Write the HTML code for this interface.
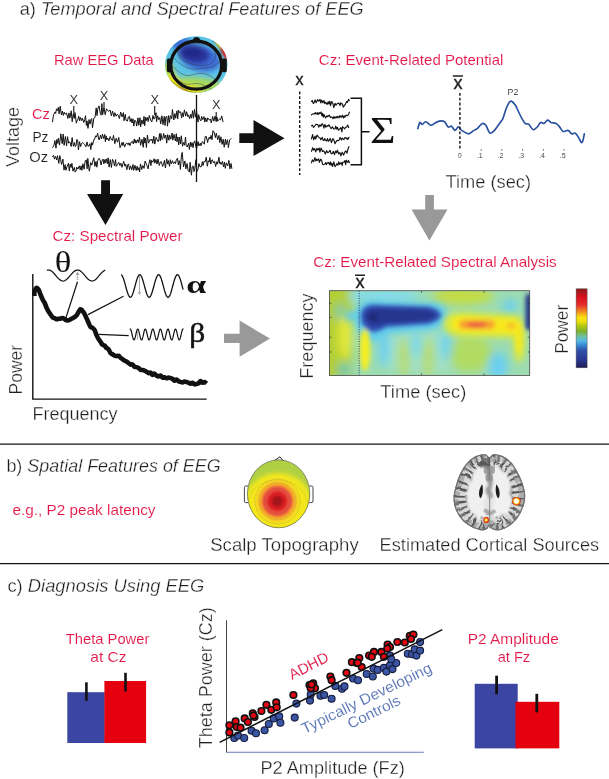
<!DOCTYPE html>
<html lang="en"><head><meta charset="utf-8"><title>EEG features figure</title>
<style>
html,body{margin:0;padding:0;background:#fff;}
body{width:609px;height:779px;overflow:hidden;font-family:"Liberation Sans",sans-serif;}
svg{display:block}
svg text{font-family:"Liberation Sans",sans-serif;stroke:#fff;stroke-width:0.3px;}
svg text.serif{font-family:"Liberation Serif",serif;stroke:none;}
</style></head><body>
<svg width="609" height="779" viewBox="0 0 609 779">
<rect width="609" height="779" fill="#fff"/>
<!-- section a -->
<text x="19.7" y="14.5" font-size="18" fill="#1f1f1f" textLength="344" lengthAdjust="spacingAndGlyphs">a) <tspan font-style="italic">Temporal and Spectral Features of EEG</tspan></text>
<text x="54" y="65" font-size="15" fill="#e31747" text-anchor="start" textLength="99.7" lengthAdjust="spacingAndGlyphs"  style="stroke-width:0.1px">Raw EEG Data</text>
<text transform="translate(18.7 167) rotate(-90)" font-size="18" fill="#1f1f1f" textLength="60" lengthAdjust="spacingAndGlyphs">Voltage</text>
<text x="31.9" y="119.2" font-size="15.3" fill="#e31747" text-anchor="start" textLength="18" lengthAdjust="spacingAndGlyphs"  style="stroke-width:0.1px">Cz</text>
<text x="32.4" y="141.8" font-size="15" fill="#1f1f1f" text-anchor="start" textLength="16" lengthAdjust="spacingAndGlyphs"  style="stroke-width:0.1px">Pz</text>
<text x="29.3" y="161.8" font-size="15" fill="#1f1f1f" text-anchor="start" textLength="18.8" lengthAdjust="spacingAndGlyphs"  style="stroke-width:0.1px">Oz</text>
<polyline points="52.5,121.7 53.5,114.9 54.1,113.9 55.1,111.9 55.7,113.4 56.5,108.8 57.5,110.6 58.3,107.4 59.1,113.8 60.2,106.2 61.4,114.9 62.4,111.0 63.3,115.4 64.2,112.2 65.1,114.3 66.5,113.0 67.9,118.5 68.9,112.9 69.9,118.0 71.2,110.8 72.2,121.7 73.2,114.2 74.3,118.4 75.0,112.6 76.3,123.2 76.9,121.3 78.0,119.1 78.7,116.2 79.7,120.8 80.4,117.4 81.7,120.6 82.4,118.1 83.8,122.5 84.7,119.8 85.5,115.7 86.4,125.5 87.0,120.9 88.0,128.4 89.0,119.6 90.0,124.1 91.0,119.2 91.7,118.5 92.5,127.8 93.8,118.2 95.0,117.4 96.2,107.9 97.0,115.6 97.7,109.2 99.0,105.8 100.3,113.4 101.1,115.2 101.9,103.6 102.6,114.7 104.0,108.0 105.2,114.7 106.5,108.8 107.6,110.5 108.7,111.4 110.1,110.0 111.4,115.8 112.5,111.0 113.9,116.7 114.8,112.7 116.1,116.2 117.2,114.3 118.2,115.2 119.4,118.6 120.7,112.0 122.1,116.9 123.4,112.6 124.0,120.7 125.3,114.3 126.0,120.1 127.4,121.1 128.4,117.0 129.5,116.4 130.2,121.6 131.1,118.5 132.1,123.0 132.9,118.8 133.9,126.1 134.6,120.4 135.8,120.8 136.7,126.1 138.0,117.8 138.8,125.3 140.0,117.7 140.6,126.9 141.9,119.9 143.1,124.2 144.0,116.4 144.7,125.7 145.6,117.2 146.2,120.7 147.3,117.4 148.1,121.5 149.3,115.5 150.6,120.0 151.8,122.0 153.0,115.4 153.9,119.1 154.8,118.5 156.0,112.7 156.6,121.6 157.6,115.8 158.8,119.7 159.8,117.6 160.7,123.9 161.9,115.8 163.0,124.7 164.2,116.4 165.1,125.5 165.8,116.9 166.9,116.4 167.5,126.2 168.6,115.6 169.4,122.6 170.4,115.7 171.7,118.8 172.4,109.5 173.8,119.9 174.9,113.5 175.7,118.2 177.0,110.8 177.7,118.9 178.5,110.1 179.4,112.7 180.5,111.7 181.7,117.9 182.4,112.7 183.3,116.7 184.4,109.9 185.7,116.1 186.6,111.7 187.9,116.6 188.6,114.9 189.6,118.8 190.8,114.2 191.5,118.2 192.6,110.7 193.4,118.2 194.5,109.4 195.4,117.1 196.6,111.5 198.0,122.1 198.6,114.7 200.0,119.7 200.9,120.9 201.6,116.4 202.8,119.7 204.0,116.6 204.9,122.1 205.6,117.9 206.9,121.7 207.7,117.8 208.6,118.9 209.4,120.2 210.4,119.1 211.3,123.0 212.6,116.5 213.9,121.2 215.1,116.1 216.2,121.7 216.9,117.1 217.7,121.2 218.7,119.7 219.7,119.1 220.5,119.9 221.7,115.9 223.0,121.7" fill="none" stroke="#111" stroke-width="1.0" stroke-linejoin="round" stroke-linecap="round" />
<polyline points="52.5,147.4 53.8,145.9 54.9,140.6 56.0,148.2 56.8,139.4 57.8,143.4 58.4,138.3 59.5,145.1 60.8,133.8 62.2,143.7 63.2,134.0 64.1,145.4 65.4,136.5 66.6,145.9 67.5,136.7 68.6,143.0 69.9,141.9 71.2,146.5 72.1,137.6 73.4,146.3 74.5,142.6 75.2,146.5 76.0,145.8 76.9,139.4 77.8,141.0 78.4,149.9 79.6,141.7 80.7,146.6 81.4,143.6 82.8,142.6 83.9,143.8 84.5,144.3 85.9,146.9 87.0,141.9 88.0,146.2 89.2,145.9 90.0,143.6 90.8,149.6 91.8,142.4 92.5,145.1 93.9,139.5 94.5,139.5 95.6,135.8 96.4,137.1 97.7,133.3 98.6,139.0 99.3,139.9 100.5,135.0 101.5,139.0 102.5,134.2 103.8,138.7 104.7,134.4 105.4,141.7 106.1,135.8 106.8,139.8 107.7,138.0 108.9,140.9 110.2,136.5 111.5,139.9 112.5,140.4 113.5,135.3 114.8,143.7 116.1,138.3 117.5,142.2 118.8,137.5 120.0,147.7 121.2,145.0 122.0,142.4 122.8,145.5 123.4,142.4 124.6,147.0 125.7,143.9 126.9,142.9 128.1,144.8 129.0,142.8 130.0,145.7 131.1,142.2 132.4,141.3 133.3,143.9 134.3,138.9 135.1,143.1 135.8,139.9 136.5,143.1 137.8,139.7 138.6,142.5 139.5,137.2 140.6,145.3 142.0,139.2 143.2,147.3 144.0,137.2 144.8,143.1 145.5,138.1 146.4,147.5 147.4,135.0 148.5,143.1 149.3,141.6 150.1,139.3 151.0,140.6 152.0,139.0 152.8,143.3 153.8,136.1 154.8,144.1 156.1,137.3 156.8,139.1 158.1,141.6 158.8,139.4 159.5,133.6 160.3,140.9 160.9,133.4 162.1,139.6 162.8,138.5 163.7,133.5 164.7,138.3 165.8,135.0 166.7,143.2 167.7,134.6 168.9,140.3 169.6,135.1 170.8,139.2 172.1,133.0 172.8,140.2 174.1,134.3 175.4,141.0 176.3,133.7 177.0,141.8 177.9,136.9 178.7,145.0 179.6,137.1 180.6,144.0 181.3,135.8 182.5,146.2 183.7,142.5 184.6,145.2 185.5,137.0 186.2,145.8 187.3,147.0 188.6,143.2 189.4,149.5 190.4,142.2 191.1,146.6 192.0,142.5 193.1,147.7 193.7,143.2 194.7,140.9 195.9,146.7 196.6,148.3 198.0,141.5 198.9,145.9 200.3,143.1 201.0,145.8 202.2,141.6 203.1,142.2 204.3,144.2 205.2,136.5 206.3,136.4 207.6,142.6 208.5,138.2 209.3,137.2 210.1,139.2 211.1,135.3 212.0,139.8 212.9,130.7 214.0,131.9 215.4,137.7 216.3,133.2 217.7,139.7 219.0,135.4 219.8,142.7 220.9,136.8 222.1,144.4 223.2,139.2 224.2,147.2 225.4,139.2 226.1,144.7 227.5,139.7 228.4,147.6 229.6,140.1 230.9,138.7" fill="none" stroke="#111" stroke-width="1.0" stroke-linejoin="round" stroke-linecap="round" />
<polyline points="52.5,156.6 53.6,155.3 54.4,159.1 55.5,156.4 56.7,160.0 57.5,155.7 58.8,163.4 59.8,155.6 60.6,159.5 61.6,164.5 62.9,159.1 64.0,170.1 65.1,164.6 65.9,170.3 67.2,166.2 68.5,163.2 69.3,171.1 70.2,164.2 71.1,167.6 71.9,163.3 73.0,171.2 74.3,167.4 75.2,172.1 76.1,170.8 76.7,167.1 77.9,169.1 79.3,165.9 80.2,169.9 81.1,165.8 81.9,170.3 82.9,163.8 84.1,169.2 85.2,160.8 86.3,159.9 87.1,168.8 87.8,158.4 88.7,167.3 89.3,171.2 90.7,162.6 91.8,165.1 92.5,162.2 93.8,157.7 94.9,166.4 96.0,161.5 96.9,167.2 97.7,160.5 99.0,158.3 100.1,160.0 101.1,165.0 101.7,161.9 103.0,159.0 103.9,163.9 104.8,159.6 105.4,162.9 106.3,158.9 107.3,163.8 108.1,157.8 109.1,167.1 110.3,159.5 111.4,167.5 112.5,159.3 113.7,161.7 114.5,166.0 115.6,159.6 116.2,166.4 117.4,164.7 118.7,162.3 119.9,165.6 120.8,163.2 122.0,167.3 123.0,163.3 123.7,161.3 124.9,166.2 125.7,164.2 126.9,169.7 127.7,165.0 128.6,163.9 129.5,169.7 130.6,165.9 131.8,169.8 133.0,164.5 133.7,170.4 135.0,165.4 136.2,170.5 137.1,166.2 138.0,170.2 139.0,167.6 139.6,172.0 140.5,163.9 141.7,169.5 142.8,165.5 144.0,168.4 145.1,161.1 146.4,164.2 147.5,166.9 148.1,168.9 149.0,163.2 150.0,159.7 150.9,165.6 151.6,160.4 152.8,162.2 154.1,158.7 154.8,163.2 156.0,159.5 157.0,164.1 158.1,159.1 159.3,165.5 160.3,162.0 161.3,161.7 162.6,166.5 163.5,164.5 164.4,160.4 165.4,167.9 166.7,158.8 167.7,164.1 168.4,160.6 169.5,166.3 170.3,159.7 171.3,163.9 172.5,160.7 173.3,163.5 174.0,163.3 174.9,161.8 175.5,163.5 176.3,159.9 177.5,158.2 178.3,164.9 179.2,160.6 179.8,163.0 180.4,169.4 181.4,156.0 182.2,152.4 183.5,166.9 184.9,161.0 185.9,168.9 187.1,163.5 188.2,170.9 189.4,172.0 190.1,162.3 191.4,175.2 192.3,166.3 193.3,166.2 194.0,171.6 194.7,169.4 196.0,159.6 196.7,171.8 198.1,168.9 198.9,163.6 200.1,166.9 201.4,166.6 202.4,161.7 203.0,165.5 204.1,161.3 205.1,161.9 206.3,157.1 207.3,166.2 208.3,160.7 209.1,162.1 209.9,157.5 210.8,164.1 211.6,160.4 212.3,159.7 213.6,163.0 214.6,161.4 215.6,166.5 216.9,161.6 217.6,164.1 219.0,157.2 219.6,163.4 220.3,162.2 221.1,164.5 222.4,161.4 223.6,167.0 224.4,162.1 225.3,168.3 226.3,162.8 227.7,165.9 228.9,160.4 229.9,168.9 231.0,163.4 231.8,168.4" fill="none" stroke="#111" stroke-width="1.0" stroke-linejoin="round" stroke-linecap="round" />
<text x="73.8" y="104.0" font-size="12.8" fill="#1f1f1f" text-anchor="middle"  style="stroke-width:0.1px">X</text>
<line x1="73.8" y1="106" x2="73.8" y2="115" stroke="#111" stroke-width="1.1"/>
<text x="104" y="100.0" font-size="12.8" fill="#1f1f1f" text-anchor="middle"  style="stroke-width:0.1px">X</text>
<line x1="104" y1="102" x2="104" y2="109" stroke="#111" stroke-width="1.1"/>
<text x="154.7" y="104.4" font-size="12.8" fill="#1f1f1f" text-anchor="middle"  style="stroke-width:0.1px">X</text>
<line x1="154.7" y1="106" x2="154.7" y2="115" stroke="#111" stroke-width="1.1"/>
<text x="216.2" y="109.4" font-size="12.8" fill="#1f1f1f" text-anchor="middle"  style="stroke-width:0.1px">X</text>
<line x1="216.2" y1="112" x2="216.2" y2="119" stroke="#111" stroke-width="1.1"/>
<line x1="196.5" y1="95" x2="196.5" y2="182" stroke="#111" stroke-width="1.3"/>
<path d="M239.3 133.3H253.5V120L284.5 138.2L253.5 156V143H239.3Z" fill="#111"/>
<path d="M101.1 180.3H110V194H123.2L105.5 225L87 194H101.1Z" fill="#111"/>
<text x="318.8" y="65" font-size="15" fill="#e31747" text-anchor="start" textLength="184.6" lengthAdjust="spacingAndGlyphs"  style="stroke-width:0.1px">Cz: Event-Related Potential</text>
<text x="299.5" y="85.4" font-size="16" fill="#1f1f1f" text-anchor="middle" style="stroke:#1f1f1f;stroke-width:0.4px">x</text>
<line x1="299.7" y1="91.5" x2="299.7" y2="175" stroke="#111" stroke-width="1.4" stroke-dasharray="2.8 2"/>
<polyline points="311.5,101.3 312.3,100.5 313.2,103.4 314.0,102.9 315.1,99.9 316.2,102.7 317.5,99.6 318.8,101.2 320.1,99.4 320.8,103.0 321.8,100.2 322.8,102.7 324.0,100.5 324.7,103.6 325.8,102.3 327.1,104.5 328.2,101.7 328.9,104.0 329.9,101.3 330.5,105.7 331.7,101.5 333.0,103.8 333.8,107.6 335.0,103.3 336.0,105.3 337.0,103.8 337.8,103.4 338.8,102.9 340.0,105.6 340.7,102.8 341.7,103.9 342.4,103.9 343.2,107.1 344.1,105.9 345.4,104.1 346.7,101.6 347.3,102.5 348.5,99.4 349.3,100.8" fill="none" stroke="#111" stroke-width="1.15" stroke-linejoin="round" stroke-linecap="round" />
<polyline points="311.5,114.8 312.2,114.2 313.4,113.8 314.3,113.9 315.3,112.7 316.0,114.2 317.3,112.7 317.9,114.6 319.2,112.6 319.8,113.8 321.1,112.0 321.9,115.8 322.6,113.3 323.3,117.1 324.0,114.5 325.1,116.9 325.8,117.8 326.8,115.8 327.9,116.7 329.1,115.0 330.5,117.4 331.2,117.1 332.3,117.3 333.0,118.7 334.0,116.5 334.9,118.3 336.3,116.5 337.0,118.0 337.9,116.3 339.1,117.9 339.9,115.5 341.2,117.3 342.3,115.3 343.4,118.0 344.2,115.8 344.8,117.2 346.1,115.1 347.2,115.7 348.3,114.9 349.4,112.2" fill="none" stroke="#111" stroke-width="1.15" stroke-linejoin="round" stroke-linecap="round" />
<polyline points="311.5,125.8 312.5,125.1 313.5,127.5 314.7,126.0 316.0,124.4 317.4,124.5 318.0,124.8 318.7,127.1 320.0,124.8 320.9,126.3 322.1,123.7 323.3,125.3 323.9,128.1 324.9,124.4 325.9,127.2 327.2,125.5 327.9,126.4 328.9,124.8 330.3,127.2 331.2,128.6 332.4,126.8 333.7,129.0 335.0,128.9 335.7,126.2 336.6,129.0 337.4,127.2 338.4,130.2 339.5,129.1 340.9,127.7 341.9,131.9 342.5,126.7 343.7,127.8 344.7,128.8 345.4,127.5 346.7,127.0 347.7,125.1 348.7,127.5" fill="none" stroke="#111" stroke-width="1.15" stroke-linejoin="round" stroke-linecap="round" />
<polyline points="311.5,138.9 312.6,134.6 313.7,139.9 315.1,136.2 315.7,139.0 317.1,135.0 318.4,136.9 319.1,137.7 320.2,138.1 320.8,139.8 321.5,138.5 322.3,137.3 323.2,140.4 324.1,140.5 324.7,138.6 325.9,140.5 326.6,140.9 327.6,138.6 328.2,141.1 328.9,141.0 330.2,138.4 331.5,142.6 332.8,138.7 333.6,139.2 335.0,143.7 336.4,140.9 337.7,140.6 338.9,140.4 340.1,137.4 341.4,140.1 342.3,138.1 343.2,139.2 343.9,139.6 344.9,137.6 345.8,137.7 346.4,138.8 347.1,137.9 347.8,139.4 349.1,137.3" fill="none" stroke="#111" stroke-width="1.15" stroke-linejoin="round" stroke-linecap="round" />
<polyline points="311.5,151.3 312.8,147.7 313.5,150.1 314.7,148.7 315.7,151.9 316.9,148.4 317.9,150.1 319.2,148.0 319.9,152.2 321.1,148.0 322.5,151.5 323.3,150.8 324.3,151.6 325.3,154.0 326.6,150.7 327.8,152.7 329.2,151.6 330.0,150.3 331.2,153.8 332.6,153.3 333.3,151.3 334.5,154.6 335.6,151.1 336.6,152.8 337.4,150.1 338.7,154.0 339.8,152.5 340.9,155.9 342.2,152.2 343.6,154.9 344.9,151.9 345.9,150.9 347.0,153.2 347.9,149.3 348.9,146.6" fill="none" stroke="#111" stroke-width="1.15" stroke-linejoin="round" stroke-linecap="round" />
<polyline points="311.5,162.8 312.3,159.9 313.7,161.7 314.9,157.6 315.8,160.9 316.6,159.2 317.3,160.4 318.6,158.8 319.4,162.3 320.7,159.2 321.6,160.4 322.6,164.2 323.8,164.6 325.1,163.7 325.8,162.6 326.5,164.6 327.2,163.1 328.4,162.4 329.6,164.7 330.3,161.8 331.0,165.1 331.8,163.1 332.5,166.5 333.8,161.8 335.0,166.7 335.9,165.5 336.8,163.7 337.9,165.2 338.8,161.9 339.7,164.5 341.1,162.5 342.2,165.4 342.8,162.2 344.0,162.3 344.9,160.6 345.7,164.7 346.4,160.2 347.1,161.5 347.8,162.4 348.6,160.6 349.4,162.6" fill="none" stroke="#111" stroke-width="1.15" stroke-linejoin="round" stroke-linecap="round" />
<path d="M350.5 98.2H361.4V164.8H350.5M361.4 131.8H369.5" fill="none" stroke="#111" stroke-width="1.5"/>
<text class="serif" x="370" y="142.8" font-size="38" fill="#111" textLength="25.5" lengthAdjust="spacingAndGlyphs">Σ</text>
<path d="M417.8 128.6C418.2 127.6 419.2 123.1 419.9 122.5C420.6 121.8 421.3 124.6 422.3 124.5C423.3 124.4 424.3 121.7 425.7 121.8C427.2 121.9 429.5 124.9 430.9 125.2C432.3 125.5 432.9 124.2 434.3 123.5C435.7 122.8 437.7 121.4 439.5 121.1C441.2 120.8 443.2 120.8 444.6 121.8C446.0 122.7 446.9 126.2 448.0 126.9C449.2 127.7 450.3 125.7 451.5 126.2C452.6 126.8 453.8 130.2 454.9 130.4C456.1 130.5 457.2 126.9 458.3 126.9C459.5 126.9 460.1 129.2 461.8 130.4C463.5 131.5 466.6 133.8 468.6 133.8C470.6 133.8 472.4 131.2 473.8 130.4C475.2 129.5 475.8 129.8 477.2 128.6C478.6 127.5 480.9 124.1 482.4 123.5C483.8 122.9 484.5 123.6 485.8 125.2C487.1 126.8 488.5 132.2 489.9 133.1C491.3 134.0 492.8 132.0 494.4 130.4C496.0 128.7 498.1 125.5 499.5 123.5C500.9 121.5 501.8 120.9 503.0 118.3C504.1 115.8 505.1 110.9 506.4 108.0C507.6 105.2 509.1 101.8 510.5 101.2C511.9 100.6 513.6 102.9 515.0 104.6C516.3 106.3 517.3 109.2 518.4 111.5C519.5 113.8 520.7 116.3 521.8 118.3C523.0 120.3 524.1 122.5 525.3 123.5C526.4 124.5 527.4 123.1 528.7 124.2C530.0 125.2 531.7 129.2 533.2 129.7C534.6 130.1 536.0 128.1 537.3 126.9C538.5 125.7 539.6 123.0 540.7 122.5C541.8 121.9 543.0 123.9 544.1 123.5C545.3 123.1 546.4 120.2 547.6 120.1C548.7 119.9 549.6 121.9 551.0 122.5C552.4 123.0 554.7 122.7 556.1 123.5C557.6 124.2 558.4 125.6 559.6 126.9C560.7 128.2 561.6 130.8 563.0 131.4C564.4 132.0 566.7 129.9 568.2 130.4C569.6 130.8 570.4 133.3 571.6 133.8C572.7 134.2 573.9 132.5 575.0 133.1C576.2 133.7 577.4 135.7 578.4 137.2C579.5 138.8 580.5 141.8 581.2 142.4C581.9 142.9 582.4 142.1 582.9 140.6C583.4 139.2 584.1 134.9 584.3 133.8" fill="none" stroke="#27509f" stroke-width="1.65" stroke-linejoin="round" stroke-linecap="round"/>
<text x="457.9" y="88.6" font-size="18" fill="#1f1f1f" text-anchor="middle" style="stroke:#1f1f1f;stroke-width:0.4px">x</text>
<line x1="452.8" y1="76" x2="463" y2="76" stroke="#111" stroke-width="1.4"/>
<line x1="459.9" y1="93" x2="459.9" y2="150" stroke="#111" stroke-width="1.4" stroke-dasharray="2.8 2"/>
<text x="513" y="95.3" font-size="8.8" fill="#1f1f1f" text-anchor="middle"  style="stroke-width:0.1px">P2</text>
<text x="459.7" y="157.7" font-size="7" fill="#222" text-anchor="middle"  style="stroke-width:0.1px">0</text>
<text x="479.81999999999994" y="157.7" font-size="7" fill="#222" text-anchor="middle"  style="stroke-width:0.1px">.1</text>
<rect x="480.7" y="149.2" width="0.9" height="1.3" fill="#333"/>
<text x="500.53999999999996" y="157.7" font-size="7" fill="#222" text-anchor="middle"  style="stroke-width:0.1px">.2</text>
<rect x="501.4" y="149.2" width="0.9" height="1.3" fill="#333"/>
<text x="521.26" y="157.7" font-size="7" fill="#222" text-anchor="middle"  style="stroke-width:0.1px">.3</text>
<rect x="522.2" y="149.2" width="0.9" height="1.3" fill="#333"/>
<text x="541.9799999999999" y="157.7" font-size="7" fill="#222" text-anchor="middle"  style="stroke-width:0.1px">.4</text>
<rect x="542.9" y="149.2" width="0.9" height="1.3" fill="#333"/>
<text x="562.6999999999999" y="157.7" font-size="7" fill="#222" text-anchor="middle"  style="stroke-width:0.1px">.5</text>
<rect x="563.6" y="149.2" width="0.9" height="1.3" fill="#333"/>
<text x="445.6" y="187.7" font-size="18" fill="#1f1f1f" text-anchor="start" textLength="85.4" lengthAdjust="spacingAndGlyphs" >Time (sec)</text>
<path d="M425.2 195H433.9V209.4H447.5L429.4 240.4L411.5 209.4H425.2Z" fill="#999"/>
<path d="M224 333.7H239.6V320.6L270 338.6L239.6 356.7V343H224Z" fill="#999"/>
<text x="52.5" y="240.5" font-size="15" fill="#e31747" text-anchor="start" textLength="130" lengthAdjust="spacingAndGlyphs"  style="stroke-width:0.1px">Cz: Spectral Power</text>
<path d="M32.8 273.9V399.1H206.7" fill="none" stroke="#111" stroke-width="1.4"/>
<text transform="translate(22 394.4) rotate(-90)" font-size="17.5" fill="#1f1f1f" textLength="49.4" lengthAdjust="spacingAndGlyphs">Power</text>
<text x="32.4" y="420.4" font-size="18.7" fill="#1f1f1f" text-anchor="start" textLength="85.2" lengthAdjust="spacingAndGlyphs" >Frequency</text>
<path d="M34.4 296.0C34.4 295.2 34.1 292.9 34.5 291.5C34.9 290.1 35.8 288.1 36.5 287.8C37.2 287.4 37.8 288.3 38.5 289.4C39.2 290.5 39.8 292.8 40.5 294.5C41.2 296.1 41.8 297.9 42.5 299.2C43.2 300.6 43.8 301.2 44.5 302.6C45.2 304.0 45.8 306.0 46.5 307.5C47.2 309.0 47.8 310.3 48.5 311.5C49.2 312.6 49.8 313.6 50.5 314.5C51.2 315.5 51.8 316.6 52.5 317.2C53.2 317.8 53.8 317.8 54.5 318.1C55.2 318.4 55.8 319.1 56.5 319.2C57.2 319.4 57.8 318.9 58.5 318.8C59.2 318.7 59.8 318.7 60.5 318.6C61.2 318.4 61.8 317.9 62.5 318.0C63.2 318.1 63.8 318.7 64.5 319.1C65.2 319.5 65.8 320.1 66.5 320.3C67.2 320.4 67.8 320.4 68.5 320.2C69.2 320.1 69.8 319.6 70.5 319.3C71.2 319.0 71.8 318.7 72.5 318.3C73.2 318.0 73.8 317.6 74.5 317.1C75.2 316.6 75.8 316.3 76.5 315.5C77.2 314.7 77.8 313.2 78.5 312.1C79.2 311.1 79.8 309.5 80.5 309.2C81.2 309.0 81.8 310.0 82.5 310.8C83.2 311.5 83.8 312.6 84.5 313.8C85.2 315.0 85.8 316.6 86.5 318.1C87.2 319.6 87.8 321.3 88.5 322.8C89.2 324.3 89.8 326.1 90.5 326.9C91.2 327.8 91.8 327.4 92.5 327.9C93.2 328.4 93.8 328.7 94.5 329.9C95.2 331.1 95.8 333.5 96.5 335.1C97.2 336.6 97.8 337.8 98.5 338.9C99.2 340.1 99.8 340.8 100.5 341.8C101.2 342.8 101.8 344.2 102.5 344.8C103.2 345.4 103.8 345.1 104.5 345.6C105.2 346.2 105.8 347.3 106.5 347.9C107.2 348.5 107.8 348.3 108.5 349.2C109.2 350.0 109.8 352.0 110.5 352.9C111.2 353.7 111.8 353.8 112.5 354.3C113.2 354.7 113.8 355.3 114.5 355.6C115.2 355.9 115.8 356.2 116.5 356.2C117.2 356.2 117.8 355.5 118.5 355.8C119.2 356.0 119.8 357.1 120.5 357.7C121.2 358.3 121.8 358.7 122.5 359.2C123.2 359.7 123.8 360.2 124.5 360.6C125.2 361.0 125.8 361.1 126.5 361.5C127.2 361.9 127.8 362.4 128.5 363.0C129.2 363.5 129.8 364.3 130.5 364.6C131.2 364.8 131.8 364.0 132.5 364.4C133.2 364.8 133.8 366.3 134.5 366.8C135.2 367.2 135.8 366.9 136.5 367.1C137.2 367.3 137.8 367.5 138.5 367.9C139.2 368.4 139.8 369.5 140.5 369.8C141.2 370.2 141.8 369.9 142.5 370.0C143.2 370.1 143.8 370.3 144.5 370.6C145.2 370.8 145.8 371.3 146.5 371.7C147.2 372.2 147.8 372.9 148.5 373.1C149.2 373.2 149.8 372.2 150.5 372.5C151.2 372.8 151.8 374.7 152.5 374.9C153.2 375.1 153.8 373.5 154.5 373.6C155.2 373.8 155.8 375.2 156.5 375.7C157.2 376.2 157.8 376.5 158.5 376.5C159.2 376.5 159.8 375.3 160.5 375.5C161.2 375.6 161.8 377.3 162.5 377.6C163.2 377.9 163.8 377.2 164.5 377.4C165.2 377.5 165.8 378.3 166.5 378.3C167.2 378.4 167.8 377.6 168.5 377.6C169.2 377.6 169.8 377.9 170.5 378.1C171.2 378.3 171.8 378.3 172.5 378.8C173.2 379.2 173.8 380.6 174.5 380.7C175.2 380.9 175.8 379.6 176.5 379.6C177.2 379.7 177.8 380.8 178.5 381.2C179.2 381.6 179.8 381.7 180.5 381.9C181.2 382.1 181.8 382.4 182.5 382.4C183.2 382.3 183.8 381.7 184.5 381.6C185.2 381.5 185.8 381.8 186.5 382.0C187.2 382.2 187.8 382.5 188.5 382.7C189.2 383.0 189.8 383.7 190.5 383.7C191.2 383.6 191.8 382.6 192.5 382.7C193.2 382.8 193.8 384.2 194.5 384.4C195.2 384.6 195.8 384.2 196.5 384.0C197.2 383.9 197.8 383.9 198.5 383.4C199.2 382.9 199.8 381.1 200.5 381.0C201.2 380.9 201.8 382.5 202.5 382.7C203.2 382.8 203.8 381.9 204.5 382.0C205.2 382.2 206.2 383.3 206.5 383.6" fill="none" stroke="#111" stroke-width="4.6" stroke-linejoin="round" stroke-linecap="butt"/>
<text class="serif" x="54.8" y="272" font-size="29" fill="#111" textLength="16.6" lengthAdjust="spacingAndGlyphs">θ</text>
<polyline points="47.3,270.2 48.1,270.0 48.9,270.0 49.7,270.2 50.5,270.5 51.3,271.0 52.1,271.6 52.9,272.3 53.7,273.1 54.5,274.0 55.3,275.0 56.1,275.9 56.9,276.9 57.7,277.8 58.5,278.6 59.3,279.3 60.1,279.9 60.9,280.4 61.7,280.8 62.5,281.0 63.3,281.0 64.1,280.8 64.9,280.5 65.7,280.1 66.5,279.5 67.3,278.8 68.1,278.0 68.9,277.1 69.7,276.2 70.5,275.2 71.3,274.3 72.1,273.4 72.9,272.5 73.7,271.8 74.5,271.1 75.3,270.6 76.1,270.3 76.9,270.0 77.7,270.0 78.5,270.1 79.3,270.4 80.1,270.8 80.9,271.4 81.7,272.1 82.5,272.9 83.3,273.8 84.1,274.7 84.9,275.7 85.7,276.6 86.5,277.5 87.3,278.4 88.1,279.2 88.9,279.8 89.7,280.3 90.5,280.7 91.3,280.9 92.1,281.0 92.9,280.9 93.7,280.6 94.5,280.2 95.3,279.7 96.1,279.0 96.9,278.2 97.7,277.3 98.5,276.4 99.3,275.4 100.1,274.5 100.9,273.6 101.7,272.7 102.5,271.9 103.3,271.3 104.1,270.7 104.9,270.3" fill="none" stroke="#111" stroke-width="1.25" stroke-linejoin="round" stroke-linecap="round" />
<line x1="77.5" y1="281.7" x2="65.7" y2="318.5" stroke="#111" stroke-width="1.2"/>
<path d="M77.5 280V274" stroke="#aaa" stroke-width="1.6" stroke-dasharray="1.2 0.6" fill="none"/><path d="M75.5 275L77.5 271.6L79.5 275Z" fill="#aaa"/>
<polyline points="121.5,274.9 122.0,275.5 122.5,276.3 123.0,277.4 123.5,278.7 124.0,280.2 124.5,281.9 125.0,283.7 125.5,285.6 126.0,287.5 126.5,289.3 127.0,291.0 127.5,292.6 128.0,294.1 128.5,295.3 129.0,296.2 129.5,296.9 130.0,297.2 130.5,297.3 131.0,297.0 131.5,296.4 132.0,295.6 132.5,294.5 133.0,293.1 133.5,291.5 134.0,289.8 134.5,288.0 135.0,286.1 135.5,284.3 136.0,282.4 136.5,280.7 137.0,279.1 137.5,277.7 138.0,276.6 138.5,275.7 139.0,275.1 139.5,274.7 140.0,274.7 140.5,275.1 141.0,275.7 141.5,276.6 142.0,277.7 142.5,279.1 143.0,280.7 143.5,282.4 144.0,284.3 144.5,286.1 145.0,288.0 145.5,289.8 146.0,291.5 146.5,293.1 147.0,294.5 147.5,295.6 148.0,296.4 148.5,297.0 149.0,297.3 149.5,297.2 150.0,296.9 150.5,296.2 151.0,295.3 151.5,294.1 152.0,292.6 152.5,291.0 153.0,289.3 153.5,287.5 154.0,285.6 154.5,283.7 155.0,281.9 155.5,280.2 156.0,278.7 156.5,277.4 157.0,276.3 157.5,275.5 158.0,274.9 158.5,274.7 159.0,274.8 159.5,275.2 160.0,275.9 160.5,276.9 161.0,278.1 161.5,279.6 162.0,281.2 162.5,283.0 163.0,284.8 163.5,286.7 164.0,288.6 164.5,290.4 165.0,292.0 165.5,293.5 166.0,294.8 166.5,295.9 167.0,296.6 167.5,297.1 168.0,297.3 168.5,297.2 169.0,296.7 169.5,296.0 170.0,294.9 170.5,293.7 171.0,292.2 171.5,290.5 172.0,288.7 172.5,286.9 173.0,285.0 173.5,283.2 174.0,281.4 174.5,279.7 175.0,278.3 175.5,277.0 176.0,276.0 176.5,275.3 177.0,274.8 177.5,274.7 178.0,274.9 178.5,275.4 179.0,276.2 179.5,277.2 180.0,278.5 180.5,280.1 181.0,281.7 181.5,283.5 182.0,285.4 182.5,287.3 183.0,289.1" fill="none" stroke="#111" stroke-width="1.3" stroke-linejoin="round" stroke-linecap="round" />
<line x1="88" y1="314.6" x2="123.5" y2="296.2" stroke="#111" stroke-width="1.2"/>
<path d="M139.5 276V293" stroke="#aaa" stroke-width="1" fill="none"/><path d="M137.9 292L139.5 295.5L141.1 292Z" fill="#aaa"/>
<text class="serif" x="186.2" y="292.5" font-size="24.5" font-weight="bold" fill="#111" textLength="20" lengthAdjust="spacingAndGlyphs">α</text>
<polyline points="130.2,329.0 130.6,329.3 131.0,330.2 131.4,331.5 131.8,333.2 132.2,335.0 132.6,336.8 133.0,338.3 133.4,339.4 133.8,339.9 134.2,339.9 134.6,339.3 135.0,338.1 135.4,336.6 135.8,334.8 136.2,333.0 136.6,331.3 137.0,330.0 137.4,329.2 137.8,329.0 138.2,329.4 138.6,330.3 139.0,331.7 139.4,333.4 139.8,335.2 140.2,337.0 140.6,338.4 141.0,339.5 141.4,340.0 141.8,339.9 142.2,339.2 142.6,337.9 143.0,336.4 143.4,334.6 143.8,332.8 144.2,331.1 144.6,329.9 145.0,329.2 145.4,329.0 145.8,329.5 146.2,330.5 146.6,331.9 147.0,333.6 147.4,335.5 147.8,337.2 148.2,338.6 148.6,339.6 149.0,340.0 149.4,339.8 149.8,339.0 150.2,337.8 150.6,336.1 151.0,334.3 151.4,332.5 151.8,331.0 152.2,329.8 152.6,329.1 153.0,329.0 153.4,329.6 153.8,330.6 154.2,332.1 154.6,333.9 155.0,335.7 155.4,337.4 155.8,338.8 156.2,339.7 156.6,340.0 157.0,339.7 157.4,338.9 157.8,337.6 158.2,335.9 158.6,334.1 159.0,332.3 159.4,330.8 159.8,329.7 160.2,329.1 160.6,329.1 161.0,329.7 161.4,330.8 161.8,332.3 162.2,334.1 162.6,335.9 163.0,337.6 163.4,338.9 163.8,339.7 164.2,340.0 164.6,339.7 165.0,338.8 165.4,337.4 165.8,335.7 166.2,333.9 166.6,332.1 167.0,330.6 167.4,329.6 167.8,329.0 168.2,329.1 168.6,329.8 169.0,331.0 169.4,332.5 169.8,334.3 170.2,336.1 170.6,337.8 171.0,339.0 171.4,339.8 171.8,340.0 172.2,339.6 172.6,338.6 173.0,337.2 173.4,335.5 173.8,333.6 174.2,331.9 174.6,330.5 175.0,329.5 175.4,329.0 175.8,329.2 176.2,329.9 176.6,331.1 177.0,332.8 177.4,334.6 177.8,336.4 178.2,337.9 178.6,339.2 179.0,339.9 179.4,340.0 179.8,339.5 180.2,338.4 180.6,337.0 181.0,335.2 181.4,333.4 181.8,331.7 182.2,330.3 182.6,329.4 183.0,329.0" fill="none" stroke="#111" stroke-width="1.2" stroke-linejoin="round" stroke-linecap="round" />
<line x1="98.5" y1="334.3" x2="128.7" y2="335.6" stroke="#111" stroke-width="1.2"/>
<path d="M137.6 330V340" stroke="#999" stroke-width="0.8" fill="none"/>
<text class="serif" x="189.2" y="342.3" font-size="28" style="stroke:#111;stroke-width:0.5px" fill="#111" textLength="16" lengthAdjust="spacingAndGlyphs">β</text>
<text x="313.2" y="267.3" font-size="15" fill="#e31747" text-anchor="start" textLength="243.5" lengthAdjust="spacingAndGlyphs"  style="stroke-width:0.1px">Cz: Event-Related Spectral Analysis</text>
<text x="359.9" y="287.6" font-size="18" fill="#1f1f1f" text-anchor="middle" style="stroke:#1f1f1f;stroke-width:0.4px">x</text>
<line x1="355" y1="275.2" x2="365" y2="275.2" stroke="#111" stroke-width="1.4"/>
<text transform="translate(313 378.7) rotate(-90)" font-size="18" fill="#1f1f1f" textLength="85.3" lengthAdjust="spacingAndGlyphs">Frequency</text>
<text x="380.3" y="398" font-size="18.3" fill="#1f1f1f" text-anchor="start" textLength="86" lengthAdjust="spacingAndGlyphs" >Time (sec)</text>
<text transform="translate(568.2 353.8) rotate(-90)" font-size="17.5" fill="#1f1f1f" textLength="49" lengthAdjust="spacingAndGlyphs">Power</text>
<defs>
<filter id="b2" x="-50%" y="-50%" width="200%" height="200%"><feGaussianBlur stdDeviation="2"/></filter>
<filter id="b3" x="-50%" y="-50%" width="200%" height="200%"><feGaussianBlur stdDeviation="3"/></filter>
<filter id="b4" x="-50%" y="-50%" width="200%" height="200%"><feGaussianBlur stdDeviation="4.5"/></filter>
<filter id="b25" x="-50%" y="-50%" width="200%" height="200%"><feGaussianBlur stdDeviation="2.4"/></filter>
<filter id="b1" x="-50%" y="-50%" width="200%" height="200%"><feGaussianBlur stdDeviation="1.2"/></filter>
<clipPath id="hc"><ellipse cx="196.3" cy="64.5" rx="31.3" ry="28.3"/></clipPath>
<clipPath id="sc"><rect x="329.4" y="290.7" width="200.3" height="84.7"/></clipPath>
<linearGradient id="jet" x1="0" y1="0" x2="0" y2="1">
<stop offset="0" stop-color="#8a1c1c"/><stop offset="0.10" stop-color="#d8121c"/><stop offset="0.20" stop-color="#e62a2a"/>
<stop offset="0.29" stop-color="#f28c22"/><stop offset="0.36" stop-color="#f8e010"/><stop offset="0.41" stop-color="#f0e010"/>
<stop offset="0.47" stop-color="#b4c814"/><stop offset="0.54" stop-color="#7cb030"/><stop offset="0.60" stop-color="#70c0a0"/>
<stop offset="0.66" stop-color="#52b8e6"/><stop offset="0.72" stop-color="#3484d2"/><stop offset="0.78" stop-color="#3050a8"/>
<stop offset="0.90" stop-color="#2a3590"/><stop offset="1" stop-color="#1c1c58"/>
</linearGradient>
</defs>
<g clip-path="url(#hc)"><rect x="160" y="30" width="75" height="70" fill="#5cc4e6"/>
<g filter="url(#b25)">
<ellipse cx="192" cy="92" rx="36" ry="15" fill="#a8d85c"/>
<ellipse cx="167" cy="75" rx="8" ry="13" fill="#a4d658"/>
<ellipse cx="183" cy="93" rx="19" ry="9" fill="#e8e21c"/>
<ellipse cx="172" cy="84" rx="8" ry="10" fill="#f0e41a"/>
<ellipse cx="176" cy="92.5" rx="11" ry="4.5" fill="#f08a20"/>
<ellipse cx="200" cy="58" rx="21" ry="13" transform="rotate(18 200 58)" fill="#3c6cd6"/>
<ellipse cx="180" cy="43" rx="12" ry="6" fill="#3c70d8"/>
<ellipse cx="194" cy="54" rx="16" ry="9.5" transform="rotate(10 194 54)" fill="#2a329c"/>
<ellipse cx="192" cy="52.5" rx="10" ry="5.5" fill="#232a88"/>
</g><g filter="url(#b1)">
<ellipse cx="219.5" cy="44" rx="3" ry="7" transform="rotate(-35 219.5 44)" fill="#f0e030"/>
<ellipse cx="225.5" cy="51" rx="4" ry="10" transform="rotate(-22 225.5 51)" fill="#e01c14"/>
</g>
<path d="M178 50C184 43 200 41 211 47C219 54 216 63 207 65C197 67 186 63 180 58Z" fill="none" stroke="#333" stroke-width="0.5" opacity="0.85"/>
<path d="M171 54C176 62 186 70 196 69C206 67 214 70 220 60C224 52 218 44 212 41" fill="none" stroke="#333" stroke-width="0.5" opacity="0.85"/>
<path d="M168 62C176 70 184 78 192 75C202 71 210 74 218 82" fill="none" stroke="#333" stroke-width="0.5" opacity="0.85"/>
<path d="M167 70C176 78 182 86 192 84C200 82 206 86 212 90" fill="none" stroke="#333" stroke-width="0.5" opacity="0.85"/>
<path d="M170 80C178 86 186 92 196 93" fill="none" stroke="#333" stroke-width="0.5" opacity="0.85"/>
</g>
<ellipse cx="196.2" cy="65.2" rx="25.4" ry="24" fill="none" stroke="#111" stroke-width="3.2"/>
<path d="M191.2 41.5L194.5 37.2H198.5L201.8 41.5Z" fill="#111"/>
<rect x="166.9" y="58.6" width="5" height="13.6" rx="1.6" fill="#111"/><rect x="221.8" y="58.6" width="5" height="13.6" rx="1.6" fill="#111"/>
<g clip-path="url(#sc)"><rect x="329.4" y="290.7" width="200.3" height="84.7" fill="#9cdcb0"/>
<g filter="url(#b4)">
<rect x="322" y="285" width="30" height="95" fill="#b2cf34"/>
<ellipse cx="340" cy="312" rx="5" ry="9" fill="#7cc8a8"/>
<ellipse cx="344" cy="370" rx="7" ry="8" fill="#7cc8a8"/>
<ellipse cx="345" cy="337" rx="7" ry="22" fill="#e2e838"/>
<ellipse cx="384" cy="296" rx="36" ry="7" fill="#84dcec"/>
<ellipse cx="420" cy="352" rx="45" ry="22" fill="#a2e0c4"/>
<ellipse cx="384" cy="346" rx="6" ry="22" fill="#6ed0ee"/>
<ellipse cx="404" cy="358" rx="6" ry="20" fill="#b4dc70"/>
<ellipse cx="428" cy="358" rx="6" ry="20" fill="#b4dc70"/>
<ellipse cx="416" cy="345" rx="5" ry="14" fill="#78d8ec"/>
<ellipse cx="463" cy="296" rx="30" ry="9" fill="#c4dc44"/>
<ellipse cx="470" cy="354" rx="22" ry="18" fill="#b0dc64"/>
<ellipse cx="510" cy="306" rx="8" ry="7" fill="#6ed0ee"/>
<ellipse cx="498" cy="366" rx="10" ry="14" fill="#6ccff0"/>
<ellipse cx="446" cy="345" rx="6" ry="16" fill="#74d4ec"/>
</g>
<g filter="url(#b3)">
<path d="M355 317C355 298 372 300 384 301L436 303C446 306 448 312 447 318C444 328 432 331 420 331L384 334C378 345 368 345 366 334C358 332 355 326 355 317Z" fill="#60ccee"/>
<ellipse cx="350" cy="316" rx="5" ry="5" fill="#60ccee"/>
</g>
<g filter="url(#b2)">
<path d="M361 317C361 305 370 304 380 305L428 306.5C436 308 441 312 441 315C441 319 436 322 428 324L386 327C378 333 368 334 365 327C362 324 361 321 361 317Z" fill="#2f4cb0"/>
<path d="M365 317C365 309 372 308 380 308.5L426 309.5C432 311 436 313 436 315C436 317 432 319.5 426 321L384 323.5C376 328 367 325 365 317Z" fill="#27348e"/>
<ellipse cx="373" cy="317" rx="4" ry="3.5" fill="#1e2670"/>
<ellipse cx="365" cy="350" rx="5.2" ry="21" fill="#f4ee22"/>
</g>
<g filter="url(#b3)">
<path d="M444 324C444 312 458 312 470 312.5L514 315C524 316 526 326 525 340C525 352 524 362 519 362C514 362 514 350 513 338L470 337C456 337 444 336 444 324Z" fill="#dce83c"/>
</g>
<g filter="url(#b2)">
<path d="M452 324C452 317 460 316.5 470 317L512 319.5C520 320 522 328 521.5 338C521.5 346 521 352 519 352C516.5 352 516.5 342 516 333L470 332C460 332 452 331 452 324Z" fill="#f8e81e"/>
<rect x="459" y="320" width="36" height="9" rx="4.5" fill="#f6a030"/>
<ellipse cx="476.5" cy="324.7" rx="10" ry="3" fill="#ee5840"/>
<ellipse cx="511" cy="325.7" rx="4.5" ry="2.5" fill="#f6b030"/>
<rect x="525.5" y="294" width="8" height="36" rx="3" fill="#27348e"/>
</g>
</g>
<line x1="359.1" y1="290.7" x2="359.1" y2="375.4" stroke="#2c3a78" stroke-width="1" stroke-dasharray="1 1.4"/>
<rect x="329.4" y="290.7" width="200.3" height="84.7" fill="none" stroke="#444" stroke-width="0.8"/>
<path d="M329.4 303.3h2M529.7 303.3h-2M329.4 317.4h2M529.7 317.4h-2M329.4 337.2h2M529.7 337.2h-2M329.4 352h2M529.7 352h-2M421.4 290.7v2M421.4 375.4v-2M484 290.7v2M484 375.4v-2" stroke="#333" stroke-width="0.7" fill="none"/>
<rect x="576.1" y="288.8" width="11" height="79" fill="url(#jet)" stroke="#555" stroke-width="0.5"/>
<!-- section b -->
<line x1="0" y1="444.2" x2="609" y2="444.2" stroke="#111" stroke-width="1.3"/>
<line x1="0" y1="563.6" x2="609" y2="563.6" stroke="#111" stroke-width="1.3"/>
<text x="6.4" y="471.6" font-size="18.3" fill="#1f1f1f" textLength="214.3" lengthAdjust="spacingAndGlyphs">b) <tspan font-style="italic">Spatial Features of EEG</tspan></text>
<text x="12.5" y="514.5" font-size="14" fill="#e31747" text-anchor="start" textLength="143" lengthAdjust="spacingAndGlyphs"  style="stroke-width:0.1px">e.g., P2 peak latency</text>
<text x="210.2" y="550.9" font-size="18.3" fill="#1f1f1f" text-anchor="start" textLength="148.5" lengthAdjust="spacingAndGlyphs" >Scalp Topography</text>
<text x="379.6" y="550.5" font-size="18" fill="#1f1f1f" text-anchor="start" textLength="219.6" lengthAdjust="spacingAndGlyphs" >Estimated Cortical Sources</text>
<defs>
<clipPath id="tc"><ellipse cx="278.6" cy="493.8" rx="31.2" ry="34"/></clipPath>
<clipPath id="bc"><ellipse cx="489.2" cy="492" rx="35.2" ry="38.8"/></clipPath>
<radialGradient id="hot1"><stop offset="0" stop-color="#fff"/><stop offset="0.45" stop-color="#fff"/><stop offset="0.6" stop-color="#ffe23a"/><stop offset="0.8" stop-color="#f07010"/><stop offset="1" stop-color="#c81808"/></radialGradient>
<radialGradient id="hot2"><stop offset="0" stop-color="#fff8c0"/><stop offset="0.35" stop-color="#ffe23a"/><stop offset="0.7" stop-color="#f05010"/><stop offset="1" stop-color="#c81808"/></radialGradient>
</defs>
<path d="M248.2 486H245.6Q244.4 486 244.4 487.5V501Q244.4 502.6 245.6 502.6H248.2M309.2 486H311.8Q313 486 313 487.5V501Q313 502.6 311.8 502.6H309.2" fill="#fff" stroke="#333" stroke-width="0.9"/>
<path d="M274 461L279.8 456.8L283.8 461.4" fill="none" stroke="#222" stroke-width="1"/>
<g clip-path="url(#tc)"><rect x="245" y="458" width="70" height="74" fill="#b0d044"/>
<g filter="url(#b2)">
<ellipse cx="278" cy="504.5" rx="34" ry="31.5" fill="#f3e71c"/>
</g><g filter="url(#b1)">
<circle cx="277.3" cy="501.2" r="22" fill="#f8d420"/>
<circle cx="277.3" cy="501.2" r="18.5" fill="#f5a62a"/>
<circle cx="277.3" cy="501.2" r="15.3" fill="#ea4e3c"/>
<circle cx="277.3" cy="501.2" r="10" fill="#d81c22"/>
<circle cx="277.3" cy="501.2" r="5.2" fill="#a2161a"/>
</g>
<ellipse cx="277.6" cy="505.5" rx="30" ry="25.5" fill="none" stroke="#776" stroke-width="0.45" stroke-dasharray="1 0.8" opacity="0.75"/>
<ellipse cx="277.6" cy="501.5" rx="22.5" ry="22.5" fill="none" stroke="#776" stroke-width="0.45" stroke-dasharray="1 0.8" opacity="0.75"/>
<ellipse cx="277.6" cy="501.2" rx="18.5" ry="18.5" fill="none" stroke="#776" stroke-width="0.45" stroke-dasharray="1 0.8" opacity="0.75"/>
<ellipse cx="277.6" cy="501.2" rx="12.5" ry="12.5" fill="none" stroke="#776" stroke-width="0.45" stroke-dasharray="1 0.8" opacity="0.75"/>
</g>
<ellipse cx="278.6" cy="493.8" rx="31.2" ry="34" fill="none" stroke="#444" stroke-width="0.7" opacity="0.8"/>
<defs><clipPath id="brc"><path d="M489.3 457.2C487.9 457.2 487.4 454.4 485.2 454.2C483.0 454.0 479.0 454.7 476.0 456.1C473.0 457.6 469.8 459.9 467.2 462.8C464.6 465.6 462.4 469.4 460.5 473.1C458.7 476.8 457.2 481.0 456.1 484.9C454.9 488.9 453.7 492.8 453.6 496.8C453.4 500.7 454.1 504.9 455.3 508.6C456.6 512.3 458.8 516.0 461.3 518.9C463.7 521.9 466.9 524.4 470.1 526.3C473.3 528.2 477.7 529.7 480.5 530.2C483.3 530.6 485.5 529.8 487.0 529.0C488.4 528.2 488.5 525.4 489.3 525.4C490.2 525.4 490.3 528.2 492.0 529.0C493.7 529.8 496.7 530.7 499.7 530.2C502.7 529.6 506.8 527.9 510.0 525.6C513.2 523.2 516.5 519.5 518.9 516.0C521.2 512.4 523.0 507.8 524.1 504.2C525.1 500.5 525.3 497.3 525.1 493.8C524.8 490.4 523.7 486.9 522.6 483.5C521.4 480.0 520.0 476.6 518.1 473.1C516.3 469.7 514.1 465.6 511.5 462.8C508.9 459.9 505.6 457.6 502.6 456.1C499.7 454.7 496.0 454.0 493.8 454.2C491.5 454.4 490.8 457.2 489.3 457.2Z"/></clipPath><filter id="b15" x="-20%" y="-20%" width="140%" height="140%"><feGaussianBlur stdDeviation="1.5"/></filter><filter id="b06" x="-20%" y="-20%" width="140%" height="140%"><feGaussianBlur stdDeviation="0.55"/></filter><filter id="wob2" x="-10%" y="-10%" width="120%" height="120%"><feTurbulence type="fractalNoise" baseFrequency="0.09" numOctaves="2" seed="9" result="n"/><feDisplacementMap in="SourceGraphic" in2="n" scale="7" xChannelSelector="R" yChannelSelector="G" result="d"/><feGaussianBlur in="d" stdDeviation="1.2"/></filter><filter id="wob" x="-10%" y="-10%" width="120%" height="120%"><feTurbulence type="fractalNoise" baseFrequency="0.11" numOctaves="2" seed="4" result="n"/><feDisplacementMap in="SourceGraphic" in2="n" scale="5.5" xChannelSelector="R" yChannelSelector="G" result="d"/><feGaussianBlur in="d" stdDeviation="0.6"/></filter></defs>
<g filter="url(#b06)">
<path d="M489.3 457.2C487.9 457.2 487.4 454.4 485.2 454.2C483.0 454.0 479.0 454.7 476.0 456.1C473.0 457.6 469.8 459.9 467.2 462.8C464.6 465.6 462.4 469.4 460.5 473.1C458.7 476.8 457.2 481.0 456.1 484.9C454.9 488.9 453.7 492.8 453.6 496.8C453.4 500.7 454.1 504.9 455.3 508.6C456.6 512.3 458.8 516.0 461.3 518.9C463.7 521.9 466.9 524.4 470.1 526.3C473.3 528.2 477.7 529.7 480.5 530.2C483.3 530.6 485.5 529.8 487.0 529.0C488.4 528.2 488.5 525.4 489.3 525.4C490.2 525.4 490.3 528.2 492.0 529.0C493.7 529.8 496.7 530.7 499.7 530.2C502.7 529.6 506.8 527.9 510.0 525.6C513.2 523.2 516.5 519.5 518.9 516.0C521.2 512.4 523.0 507.8 524.1 504.2C525.1 500.5 525.3 497.3 525.1 493.8C524.8 490.4 523.7 486.9 522.6 483.5C521.4 480.0 520.0 476.6 518.1 473.1C516.3 469.7 514.1 465.6 511.5 462.8C508.9 459.9 505.6 457.6 502.6 456.1C499.7 454.7 496.0 454.0 493.8 454.2C491.5 454.4 490.8 457.2 489.3 457.2Z" fill="#9a9a9a"/>
<g clip-path="url(#brc)"><g filter="url(#wob)">
<path d="M489.3 457.2C487.9 457.2 487.4 454.4 485.2 454.2C483.0 454.0 479.0 454.7 476.0 456.1C473.0 457.6 469.8 459.9 467.2 462.8C464.6 465.6 462.4 469.4 460.5 473.1C458.7 476.8 457.2 481.0 456.1 484.9C454.9 488.9 453.7 492.8 453.6 496.8C453.4 500.7 454.1 504.9 455.3 508.6C456.6 512.3 458.8 516.0 461.3 518.9C463.7 521.9 466.9 524.4 470.1 526.3C473.3 528.2 477.7 529.7 480.5 530.2C483.3 530.6 485.5 529.8 487.0 529.0C488.4 528.2 488.5 525.4 489.3 525.4C490.2 525.4 490.3 528.2 492.0 529.0C493.7 529.8 496.7 530.7 499.7 530.2C502.7 529.6 506.8 527.9 510.0 525.6C513.2 523.2 516.5 519.5 518.9 516.0C521.2 512.4 523.0 507.8 524.1 504.2C525.1 500.5 525.3 497.3 525.1 493.8C524.8 490.4 523.7 486.9 522.6 483.5C521.4 480.0 520.0 476.6 518.1 473.1C516.3 469.7 514.1 465.6 511.5 462.8C508.9 459.9 505.6 457.6 502.6 456.1C499.7 454.7 496.0 454.0 493.8 454.2C491.5 454.4 490.8 457.2 489.3 457.2Z" fill="none" stroke="#d6d6d6" stroke-width="24"/>
<path d="M489.3 457.2C487.9 457.2 487.4 454.4 485.2 454.2C483.0 454.0 479.0 454.7 476.0 456.1C473.0 457.6 469.8 459.9 467.2 462.8C464.6 465.6 462.4 469.4 460.5 473.1C458.7 476.8 457.2 481.0 456.1 484.9C454.9 488.9 453.7 492.8 453.6 496.8C453.4 500.7 454.1 504.9 455.3 508.6C456.6 512.3 458.8 516.0 461.3 518.9C463.7 521.9 466.9 524.4 470.1 526.3C473.3 528.2 477.7 529.7 480.5 530.2C483.3 530.6 485.5 529.8 487.0 529.0C488.4 528.2 488.5 525.4 489.3 525.4C490.2 525.4 490.3 528.2 492.0 529.0C493.7 529.8 496.7 530.7 499.7 530.2C502.7 529.6 506.8 527.9 510.0 525.6C513.2 523.2 516.5 519.5 518.9 516.0C521.2 512.4 523.0 507.8 524.1 504.2C525.1 500.5 525.3 497.3 525.1 493.8C524.8 490.4 523.7 486.9 522.6 483.5C521.4 480.0 520.0 476.6 518.1 473.1C516.3 469.7 514.1 465.6 511.5 462.8C508.9 459.9 505.6 457.6 502.6 456.1C499.7 454.7 496.0 454.0 493.8 454.2C491.5 454.4 490.8 457.2 489.3 457.2Z" fill="none" stroke="#585858" stroke-width="24" stroke-dasharray="2.6 4.4 3.2 5.2 2.2 3.8 3 6"/>
<path d="M489.3 457.2C487.9 457.2 487.4 454.4 485.2 454.2C483.0 454.0 479.0 454.7 476.0 456.1C473.0 457.6 469.8 459.9 467.2 462.8C464.6 465.6 462.4 469.4 460.5 473.1C458.7 476.8 457.2 481.0 456.1 484.9C454.9 488.9 453.7 492.8 453.6 496.8C453.4 500.7 454.1 504.9 455.3 508.6C456.6 512.3 458.8 516.0 461.3 518.9C463.7 521.9 466.9 524.4 470.1 526.3C473.3 528.2 477.7 529.7 480.5 530.2C483.3 530.6 485.5 529.8 487.0 529.0C488.4 528.2 488.5 525.4 489.3 525.4C490.2 525.4 490.3 528.2 492.0 529.0C493.7 529.8 496.7 530.7 499.7 530.2C502.7 529.6 506.8 527.9 510.0 525.6C513.2 523.2 516.5 519.5 518.9 516.0C521.2 512.4 523.0 507.8 524.1 504.2C525.1 500.5 525.3 497.3 525.1 493.8C524.8 490.4 523.7 486.9 522.6 483.5C521.4 480.0 520.0 476.6 518.1 473.1C516.3 469.7 514.1 465.6 511.5 462.8C508.9 459.9 505.6 457.6 502.6 456.1C499.7 454.7 496.0 454.0 493.8 454.2C491.5 454.4 490.8 457.2 489.3 457.2Z" fill="none" stroke="#8c8c8c" stroke-width="12" stroke-dasharray="5 3.1 4 4.7 6 2.9" stroke-dashoffset="3" opacity="0.55"/>
</g>
<path d="M489.3 457.2C487.9 457.2 487.4 454.4 485.2 454.2C483.0 454.0 479.0 454.7 476.0 456.1C473.0 457.6 469.8 459.9 467.2 462.8C464.6 465.6 462.4 469.4 460.5 473.1C458.7 476.8 457.2 481.0 456.1 484.9C454.9 488.9 453.7 492.8 453.6 496.8C453.4 500.7 454.1 504.9 455.3 508.6C456.6 512.3 458.8 516.0 461.3 518.9C463.7 521.9 466.9 524.4 470.1 526.3C473.3 528.2 477.7 529.7 480.5 530.2C483.3 530.6 485.5 529.8 487.0 529.0C488.4 528.2 488.5 525.4 489.3 525.4C490.2 525.4 490.3 528.2 492.0 529.0C493.7 529.8 496.7 530.7 499.7 530.2C502.7 529.6 506.8 527.9 510.0 525.6C513.2 523.2 516.5 519.5 518.9 516.0C521.2 512.4 523.0 507.8 524.1 504.2C525.1 500.5 525.3 497.3 525.1 493.8C524.8 490.4 523.7 486.9 522.6 483.5C521.4 480.0 520.0 476.6 518.1 473.1C516.3 469.7 514.1 465.6 511.5 462.8C508.9 459.9 505.6 457.6 502.6 456.1C499.7 454.7 496.0 454.0 493.8 454.2C491.5 454.4 490.8 457.2 489.3 457.2Z" fill="none" stroke="#707070" stroke-width="2.4"/>
</g></g>
<g filter="url(#wob2)">
<path d="M485.2 467.2C484.0 465.0 481.6 464.9 479.7 465.7C477.8 466.6 475.5 469.7 473.8 472.4C472.1 475.1 470.5 478.7 469.4 482.0C468.3 485.3 467.5 488.8 467.2 492.3C466.8 495.9 466.6 500.2 467.2 503.4C467.8 506.6 469.3 509.2 470.9 511.5C472.5 513.9 474.8 516.2 476.8 517.5C478.7 518.7 481.1 519.4 482.7 518.9C484.2 518.4 485.3 517.0 486.1 514.5C486.8 512.0 487.0 507.8 487.1 504.2C487.2 500.5 486.7 496.5 486.7 492.3C486.6 488.1 487.2 483.2 487.0 479.0C486.7 474.8 486.4 469.4 485.2 467.2Z" fill="#f0f0f0"/>
<path d="M493.5 467.2C494.7 465.0 497.0 464.9 498.9 465.7C500.8 466.6 503.1 469.7 504.8 472.4C506.6 475.1 508.2 478.7 509.3 482.0C510.4 485.3 511.1 488.8 511.5 492.3C511.9 495.9 512.1 500.2 511.5 503.4C510.9 506.6 509.4 509.2 507.8 511.5C506.2 513.9 503.9 516.2 501.9 517.5C499.9 518.7 497.5 519.4 496.0 518.9C494.4 518.4 493.3 517.0 492.6 514.5C491.8 512.0 491.6 507.8 491.5 504.2C491.5 500.5 492.0 496.5 492.0 492.3C492.0 488.1 491.5 483.2 491.7 479.0C491.9 474.8 492.3 469.4 493.5 467.2Z" fill="#f0f0f0"/>
<rect x="484.9" y="496.8" width="8.9" height="13.3" fill="#e4e4e4"/>
</g>
<g filter="url(#b06)">
<line x1="489.3" y1="456.9" x2="489.3" y2="479.8" stroke="#555" stroke-width="1.3"/>
<line x1="489.6" y1="496.8" x2="489.6" y2="528.5" stroke="#8a8a8a" stroke-width="1.1"/>
<rect x="483.7" y="465.7" width="11.2" height="8.1" rx="2" fill="#8e8e8e" opacity="0.75"/>
<rect x="485.6" y="473.9" width="7.4" height="7.4" rx="2" fill="#8e8e8e" opacity="0.75"/>
<circle cx="485.6" cy="510.8" r="2.1" fill="#9a9a9a" opacity="0.7"/>
<circle cx="493.8" cy="511.5" r="2.1" fill="#9a9a9a" opacity="0.7"/>
<circle cx="481.9" cy="517.5" r="1.5" fill="#9a9a9a" opacity="0.7"/>
<circle cx="496.7" cy="517.5" r="1.5" fill="#9a9a9a" opacity="0.7"/>
<path d="M482.2 484.2C478.7 488.6 478.2 495.3 480.2 498.2C482.8 496.8 483.7 489.4 482.2 484.2Z" fill="#1c1c1c"/>
<path d="M496.4 484.2C500.0 488.6 500.4 495.3 498.5 498.2C495.8 496.8 494.9 489.4 496.4 484.2Z" fill="#1c1c1c"/>
</g>
<circle cx="516.4" cy="501.2" r="4.3" fill="url(#hot1)"/>
<circle cx="486.1" cy="520" r="2.9" fill="url(#hot2)"/>
<!-- section c -->
<text x="7.4" y="592.1" font-size="18.3" fill="#1f1f1f" textLength="197" lengthAdjust="spacingAndGlyphs">c) <tspan font-style="italic">Diagnosis Using EEG</tspan></text>
<text x="65.7" y="643.9" font-size="15" fill="#e31747" text-anchor="start" textLength="83.7" lengthAdjust="spacingAndGlyphs"  style="stroke-width:0.1px">Theta Power</text>
<text x="90.3" y="662" font-size="15" fill="#e31747" text-anchor="start" textLength="36.1" lengthAdjust="spacingAndGlyphs"  style="stroke-width:0.1px">at Cz</text>
<rect x="67.3" y="692.2" width="37.5" height="50.8" fill="#3a46a2"/>
<rect x="104.4" y="681" width="41.7" height="62" fill="#e5000f"/>
<line x1="86.4" y1="682.3" x2="86.4" y2="700.7" stroke="#111" stroke-width="2.6"/>
<line x1="125.5" y1="672.8" x2="125.5" y2="691.5" stroke="#111" stroke-width="2.6"/>
<text x="467.7" y="644.4" font-size="15" fill="#e31747" text-anchor="start" textLength="91.1" lengthAdjust="spacingAndGlyphs"  style="stroke-width:0.1px">P2 Amplitude</text>
<text x="497.7" y="662.4" font-size="15" fill="#e31747" text-anchor="start" textLength="32.5" lengthAdjust="spacingAndGlyphs"  style="stroke-width:0.1px">at Fz</text>
<rect x="474.7" y="683.8" width="43" height="64.6" fill="#3a46a2"/>
<rect x="515.5" y="701.8" width="43.8" height="46.6" fill="#e5000f"/>
<line x1="496.6" y1="675.7" x2="496.6" y2="694.3" stroke="#111" stroke-width="2.8"/>
<line x1="536.8" y1="693.8" x2="536.8" y2="712.4" stroke="#111" stroke-width="2.8"/>
<line x1="226.5" y1="620.3" x2="226.5" y2="752.4" stroke="#444" stroke-width="1"/>
<line x1="226" y1="752.2" x2="423.8" y2="752.2" stroke="#6a78b5" stroke-width="1.1"/>
<text transform="translate(211.6 748.3) rotate(-90)" font-size="18" fill="#1f1f1f" textLength="141" lengthAdjust="spacingAndGlyphs">Theta Power (Cz)</text>
<text x="260.5" y="774.3" font-size="18.3" fill="#1f1f1f" text-anchor="start" textLength="144.3" lengthAdjust="spacingAndGlyphs" >P2 Amplitude (Fz)</text>
<circle cx="234.3" cy="738" r="3.5" fill="#3b55a5" stroke="#151b3c" stroke-width="1.1"/>
<circle cx="238" cy="735.6" r="3.5" fill="#3b55a5" stroke="#151b3c" stroke-width="1.1"/>
<circle cx="244.2" cy="738" r="3.5" fill="#3b55a5" stroke="#151b3c" stroke-width="1.1"/>
<circle cx="251.6" cy="730.7" r="3.5" fill="#3b55a5" stroke="#151b3c" stroke-width="1.1"/>
<circle cx="256" cy="733.2" r="3.5" fill="#3b55a5" stroke="#151b3c" stroke-width="1.1"/>
<circle cx="264.6" cy="730.2" r="3.5" fill="#3b55a5" stroke="#151b3c" stroke-width="1.1"/>
<circle cx="268.8" cy="724" r="3.5" fill="#3b55a5" stroke="#151b3c" stroke-width="1.1"/>
<circle cx="273.7" cy="718.4" r="3.5" fill="#3b55a5" stroke="#151b3c" stroke-width="1.1"/>
<circle cx="279.2" cy="716.4" r="3.5" fill="#3b55a5" stroke="#151b3c" stroke-width="1.1"/>
<circle cx="280.4" cy="722.8" r="3.5" fill="#3b55a5" stroke="#151b3c" stroke-width="1.1"/>
<circle cx="294.7" cy="717.6" r="3.5" fill="#3b55a5" stroke="#151b3c" stroke-width="1.1"/>
<circle cx="296.4" cy="703.6" r="3.5" fill="#3b55a5" stroke="#151b3c" stroke-width="1.1"/>
<circle cx="310" cy="700.6" r="3.5" fill="#3b55a5" stroke="#151b3c" stroke-width="1.1"/>
<circle cx="310.7" cy="694.5" r="3.5" fill="#3b55a5" stroke="#151b3c" stroke-width="1.1"/>
<circle cx="320.5" cy="695.7" r="3.5" fill="#3b55a5" stroke="#151b3c" stroke-width="1.1"/>
<circle cx="324.2" cy="695" r="3.5" fill="#3b55a5" stroke="#151b3c" stroke-width="1.1"/>
<circle cx="331.6" cy="698.7" r="3.5" fill="#3b55a5" stroke="#151b3c" stroke-width="1.1"/>
<circle cx="335.3" cy="685.9" r="3.5" fill="#3b55a5" stroke="#151b3c" stroke-width="1.1"/>
<circle cx="342" cy="688.8" r="3.5" fill="#3b55a5" stroke="#151b3c" stroke-width="1.1"/>
<circle cx="344.5" cy="686.4" r="3.5" fill="#3b55a5" stroke="#151b3c" stroke-width="1.1"/>
<circle cx="353.1" cy="678.5" r="3.5" fill="#3b55a5" stroke="#151b3c" stroke-width="1.1"/>
<circle cx="358" cy="680.2" r="3.5" fill="#3b55a5" stroke="#151b3c" stroke-width="1.1"/>
<circle cx="366.7" cy="674" r="3.5" fill="#3b55a5" stroke="#151b3c" stroke-width="1.1"/>
<circle cx="372.8" cy="676.5" r="3.5" fill="#3b55a5" stroke="#151b3c" stroke-width="1.1"/>
<circle cx="373.5" cy="668.6" r="3.5" fill="#3b55a5" stroke="#151b3c" stroke-width="1.1"/>
<circle cx="377.7" cy="669.9" r="3.5" fill="#3b55a5" stroke="#151b3c" stroke-width="1.1"/>
<circle cx="383.9" cy="667.9" r="3.5" fill="#3b55a5" stroke="#151b3c" stroke-width="1.1"/>
<circle cx="386.4" cy="671.6" r="3.5" fill="#3b55a5" stroke="#151b3c" stroke-width="1.1"/>
<circle cx="390" cy="665.4" r="3.5" fill="#3b55a5" stroke="#151b3c" stroke-width="1.1"/>
<circle cx="392.5" cy="669.1" r="3.5" fill="#3b55a5" stroke="#151b3c" stroke-width="1.1"/>
<circle cx="396.2" cy="663" r="3.5" fill="#3b55a5" stroke="#151b3c" stroke-width="1.1"/>
<circle cx="390" cy="655.6" r="3.5" fill="#3b55a5" stroke="#151b3c" stroke-width="1.1"/>
<circle cx="391.3" cy="659.3" r="3.5" fill="#3b55a5" stroke="#151b3c" stroke-width="1.1"/>
<circle cx="407.8" cy="653.8" r="3.5" fill="#3b55a5" stroke="#151b3c" stroke-width="1.1"/>
<circle cx="412.2" cy="654.3" r="3.5" fill="#3b55a5" stroke="#151b3c" stroke-width="1.1"/>
<circle cx="414.7" cy="649.4" r="3.5" fill="#3b55a5" stroke="#151b3c" stroke-width="1.1"/>
<circle cx="416.4" cy="655.6" r="3.5" fill="#3b55a5" stroke="#151b3c" stroke-width="1.1"/>
<circle cx="420.1" cy="650.6" r="3.5" fill="#3b55a5" stroke="#151b3c" stroke-width="1.1"/>
<circle cx="420.1" cy="642" r="3.5" fill="#3b55a5" stroke="#151b3c" stroke-width="1.1"/>
<circle cx="229.4" cy="725.3" r="3.3" fill="#e30613" stroke="#111" stroke-width="1.6"/>
<circle cx="229.4" cy="732.4" r="3.3" fill="#e30613" stroke="#111" stroke-width="1.6"/>
<circle cx="235.6" cy="721.3" r="3.3" fill="#e30613" stroke="#111" stroke-width="1.6"/>
<circle cx="236.8" cy="727" r="3.3" fill="#e30613" stroke="#111" stroke-width="1.6"/>
<circle cx="240.5" cy="727.7" r="3.3" fill="#e30613" stroke="#111" stroke-width="1.6"/>
<circle cx="244.7" cy="718.4" r="3.3" fill="#e30613" stroke="#111" stroke-width="1.6"/>
<circle cx="247.9" cy="722" r="3.3" fill="#e30613" stroke="#111" stroke-width="1.6"/>
<circle cx="252.8" cy="713.4" r="3.3" fill="#e30613" stroke="#111" stroke-width="1.6"/>
<circle cx="254.5" cy="717" r="3.3" fill="#e30613" stroke="#111" stroke-width="1.6"/>
<circle cx="261.4" cy="711" r="3.3" fill="#e30613" stroke="#111" stroke-width="1.6"/>
<circle cx="266.4" cy="704.8" r="3.3" fill="#e30613" stroke="#111" stroke-width="1.6"/>
<circle cx="271.3" cy="709.8" r="3.3" fill="#e30613" stroke="#111" stroke-width="1.6"/>
<circle cx="276.2" cy="702.4" r="3.3" fill="#e30613" stroke="#111" stroke-width="1.6"/>
<circle cx="276.7" cy="707.3" r="3.3" fill="#e30613" stroke="#111" stroke-width="1.6"/>
<circle cx="293.4" cy="695" r="3.3" fill="#e30613" stroke="#111" stroke-width="1.6"/>
<circle cx="309.5" cy="685" r="3.3" fill="#e30613" stroke="#111" stroke-width="1.6"/>
<circle cx="313.2" cy="683.4" r="3.3" fill="#e30613" stroke="#111" stroke-width="1.6"/>
<circle cx="315" cy="688.3" r="3.3" fill="#e30613" stroke="#111" stroke-width="1.6"/>
<circle cx="310.7" cy="688.3" r="3.3" fill="#e30613" stroke="#111" stroke-width="1.6"/>
<circle cx="330.4" cy="676.5" r="3.3" fill="#e30613" stroke="#111" stroke-width="1.6"/>
<circle cx="331.6" cy="680.2" r="3.3" fill="#e30613" stroke="#111" stroke-width="1.6"/>
<circle cx="346.5" cy="672.8" r="3.3" fill="#e30613" stroke="#111" stroke-width="1.6"/>
<circle cx="351.9" cy="662.2" r="3.3" fill="#e30613" stroke="#111" stroke-width="1.6"/>
<circle cx="356.8" cy="663" r="3.3" fill="#e30613" stroke="#111" stroke-width="1.6"/>
<circle cx="359.3" cy="658" r="3.3" fill="#e30613" stroke="#111" stroke-width="1.6"/>
<circle cx="361.7" cy="667.1" r="3.3" fill="#e30613" stroke="#111" stroke-width="1.6"/>
<circle cx="369.1" cy="655.6" r="3.3" fill="#e30613" stroke="#111" stroke-width="1.6"/>
<circle cx="374" cy="651.9" r="3.3" fill="#e30613" stroke="#111" stroke-width="1.6"/>
<circle cx="381.4" cy="651.9" r="3.3" fill="#e30613" stroke="#111" stroke-width="1.6"/>
<circle cx="383.9" cy="656.8" r="3.3" fill="#e30613" stroke="#111" stroke-width="1.6"/>
<circle cx="387.6" cy="644.5" r="3.3" fill="#e30613" stroke="#111" stroke-width="1.6"/>
<circle cx="390" cy="647" r="3.3" fill="#e30613" stroke="#111" stroke-width="1.6"/>
<circle cx="397.4" cy="642" r="3.3" fill="#e30613" stroke="#111" stroke-width="1.6"/>
<circle cx="404.8" cy="642.5" r="3.3" fill="#e30613" stroke="#111" stroke-width="1.6"/>
<circle cx="409.8" cy="635.9" r="3.3" fill="#e30613" stroke="#111" stroke-width="1.6"/>
<circle cx="413.4" cy="634.6" r="3.3" fill="#e30613" stroke="#111" stroke-width="1.6"/>
<circle cx="411" cy="639" r="3.3" fill="#e30613" stroke="#111" stroke-width="1.6"/>
<circle cx="357.7" cy="662.7" r="3.3" fill="#e30613" stroke="#111" stroke-width="1.6"/>
<circle cx="371.8" cy="656.8" r="3.3" fill="#e30613" stroke="#111" stroke-width="1.6"/>
<circle cx="387.3" cy="648.6" r="3.3" fill="#e30613" stroke="#111" stroke-width="1.6"/>
<circle cx="253.5" cy="715.5" r="3.3" fill="#e30613" stroke="#111" stroke-width="1.6"/>
<circle cx="311.5" cy="684.5" r="3.3" fill="#e30613" stroke="#111" stroke-width="1.6"/>
<line x1="219.6" y1="742.3" x2="442.3" y2="629.7" stroke="#111" stroke-width="1.5"/>
<text transform="translate(292 680) rotate(-27)" font-size="15" style="stroke-width:0.1px" fill="#e31747">ADHD</text>
<text transform="translate(304.5 734) rotate(-26)" font-size="15" style="stroke-width:0.1px" fill="#5570b4" textLength="143" lengthAdjust="spacingAndGlyphs">Typically Developing</text>
<text transform="translate(350.5 729) rotate(-26)" font-size="15" style="stroke-width:0.1px" fill="#5570b4" textLength="57" lengthAdjust="spacingAndGlyphs">Controls</text>
</svg>
</body></html>
